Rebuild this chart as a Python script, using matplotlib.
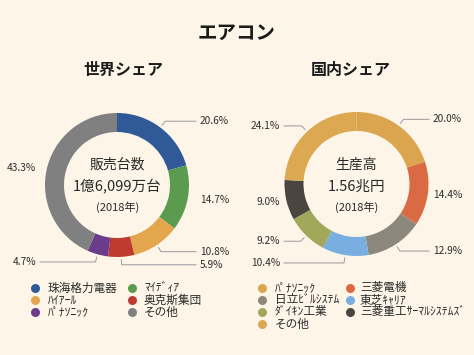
import numpy as np
import matplotlib
matplotlib.use("Agg")
import matplotlib.pyplot as plt

plt.rcParams['font.family'] = ['Noto Sans CJK JP', 'DejaVu Sans']

# ---- data ----
title = "エアコン"
world_title = "世界シェア"
world_labels = ["珠海格力電器", "ﾏｲﾃﾞｨｱ", "ﾊｲｱｰﾙ", "奥克斯集団", "ﾊﾟﾅｿﾆｯｸ", "その他"]
world_values = [20.6, 14.7, 10.8, 5.9, 4.7, 43.3]
world_colors = ["#2f5a97", "#5a9b4f", "#e4a64d", "#bf3a31", "#6a3c8b", "#808080"]
world_center = ["販売台数", "1億6,099万台", "(2018年)"]

dom_title = "国内シェア"
dom_labels = ["ﾊﾟﾅｿﾆｯｸ", "三菱電機", "日立ﾋﾞﾙｼｽﾃﾑ", "東芝ｷｬﾘｱ", "ﾀﾞｲｷﾝ工業",
              "三菱重工ｻｰﾏﾙｼｽﾃﾑｽﾞ", "その他"]
dom_values = [20.0, 14.4, 12.9, 10.4, 9.2, 9.0, 24.1]
dom_colors = ["#dba550", "#d96a43", "#8d887c", "#78afe0", "#a1a75b", "#4a463f", "#dca852"]
dom_center = ["生産高", "1.56兆円", "(2018年)"]

BG = "#fcf5e8"
W, H = 474, 355

fig = plt.figure(figsize=(W / 100, H / 100), dpi=100, facecolor=BG)
ax = fig.add_axes([0, 0, 1, 1])
ax.set_facecolor(BG)


def Y(y):
    return H - y


def donut(values, colors, cx, cy, R, width, right_x, left_x):
    ax.pie(values, colors=colors, startangle=90, counterclock=False,
           center=(cx, Y(cy)), radius=R,
           wedgeprops=dict(width=width, linewidth=0))
    total = sum(values)
    cum = 0
    for v in values:
        mid = 90 - (cum + v / 2) / total * 360
        cum += v
        a = np.deg2rad(mid)
        sx, sy = cx + 1.04 * R * np.cos(a), cy - 1.04 * R * np.sin(a)
        ex, ey = cx + 1.11 * R * np.cos(a), cy - 1.11 * R * np.sin(a)
        txt = f"{v:.1f}%"
        if np.cos(a) >= 0:
            lx = right_x - 4
            if lx > ex + 2:
                ax.plot([sx, ex, lx], [Y(sy), Y(ey), Y(ey)], color="#9a9a9a", lw=0.7)
            ax.text(right_x, Y(ey), txt, ha="left", va="center",
                    fontsize=7.3, color="#2e2e2e")
        else:
            lx = left_x + 4
            if lx < ex - 2:
                ax.plot([sx, ex, lx], [Y(sy), Y(ey), Y(ey)], color="#9a9a9a", lw=0.7)
            ax.text(left_x, Y(ey), txt, ha="right", va="center",
                    fontsize=7.3, color="#2e2e2e")


donut(world_values, world_colors, 117, 185, 72, 19, 200, 36)
donut(dom_values, dom_colors, 356.5, 184, 72, 19, 433, 280)

# center texts
for cx, lines in ((117.5, world_center), (356.5, dom_center)):
    ax.text(cx, Y(165), lines[0], ha="center", va="center", fontsize=10, color="#2a2a2a")
    ax.text(cx, Y(187), lines[1], ha="center", va="center", fontsize=10.5, color="#2a2a2a")
    ax.text(cx, Y(207), lines[2], ha="center", va="center", fontsize=8, color="#2a2a2a")

# titles
ax.text(237, Y(33), title, ha="center", va="center", fontsize=14,
        fontweight="bold", color="#1a1a1a")
ax.text(123, Y(70), world_title, ha="center", va="center", fontsize=11.5,
        fontweight="bold", color="#1a1a1a")
ax.text(351, Y(70), dom_title, ha="center", va="center", fontsize=11.5,
        fontweight="bold", color="#1a1a1a")


# legends
def legend(labels, colors, col_mx, col_tx, y0, dy):
    for i, (lab, col) in enumerate(zip(labels, colors)):
        r, c = divmod(i, 2)
        y = y0 + r * dy
        ax.scatter([col_mx[c]], [Y(y)], s=42, color=col, linewidths=0, zorder=3)
        ax.text(col_tx[c], Y(y), lab, ha="left", va="center", fontsize=8.4,
                color="#2a2a2a")


legend(world_labels, world_colors, (35, 132), (48, 144), 288, 12)
legend(dom_labels, dom_colors, (262, 350), (275, 360), 288, 12)

ax.set_xlim(0, W)
ax.set_ylim(0, H)
ax.set_aspect("auto")
ax.axis("off")

fig.savefig("out.png", dpi=100, facecolor=BG)
